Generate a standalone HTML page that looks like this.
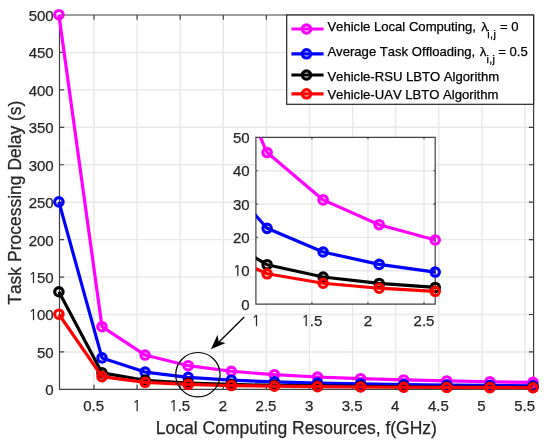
<!DOCTYPE html>
<html><head><meta charset="utf-8"><style>
html,body{margin:0;padding:0;background:#fff;width:550px;height:444px;overflow:hidden}
svg{display:block;font-kerning:none;color:#262626}
text{stroke:currentColor;stroke-width:0.25px}
</style></head><body>
<svg width="550" height="444" viewBox="0 0 550 444">
<rect width="550" height="444" fill="#fff"/>
<defs><clipPath id="cm"><rect x="59.5" y="15" width="474.1" height="374.4"/></clipPath>
<clipPath id="ci"><rect x="255.9" y="137.4" width="179.3" height="166.7"/></clipPath></defs>
<path d="M93.98 15V389.4M137.08 15V389.4M180.18 15V389.4M223.28 15V389.4M266.38 15V389.4M309.48 15V389.4M352.58 15V389.4M395.68 15V389.4M438.78 15V389.4M481.88 15V389.4M524.98 15V389.4M59.5 351.96H533.6M59.5 314.52H533.6M59.5 277.08H533.6M59.5 239.64H533.6M59.5 202.2H533.6M59.5 164.76H533.6M59.5 127.32H533.6M59.5 89.88H533.6M59.5 52.44H533.6" stroke="#e8e8e8" stroke-width="1.4" fill="none"/>
<path d="M59.5 15H533.6 V389.4 H59.5 ZM93.98 389.4v-4.7 M93.98 15v4.7M137.08 389.4v-4.7 M137.08 15v4.7M180.18 389.4v-4.7 M180.18 15v4.7M223.28 389.4v-4.7 M223.28 15v4.7M266.38 389.4v-4.7 M266.38 15v4.7M309.48 389.4v-4.7 M309.48 15v4.7M352.58 389.4v-4.7 M352.58 15v4.7M395.68 389.4v-4.7 M395.68 15v4.7M438.78 389.4v-4.7 M438.78 15v4.7M481.88 389.4v-4.7 M481.88 15v4.7M524.98 389.4v-4.7 M524.98 15v4.7M59.5 389.4h4.7 M533.6 389.4h-4.7M59.5 351.96h4.7 M533.6 351.96h-4.7M59.5 314.52h4.7 M533.6 314.52h-4.7M59.5 277.08h4.7 M533.6 277.08h-4.7M59.5 239.64h4.7 M533.6 239.64h-4.7M59.5 202.2h4.7 M533.6 202.2h-4.7M59.5 164.76h4.7 M533.6 164.76h-4.7M59.5 127.32h4.7 M533.6 127.32h-4.7M59.5 89.88h4.7 M533.6 89.88h-4.7M59.5 52.44h4.7 M533.6 52.44h-4.7M59.5 15h4.7 M533.6 15h-4.7" stroke="#404040" stroke-width="1.2" fill="none"/>
<polyline points="58.9,14.7 102,326.7 145.1,355.06 188.2,365.7 231.3,371.27 274.4,374.7 317.5,377.02 360.6,378.7 403.7,379.97 446.8,380.96 489.9,381.76 533,382.41" fill="none" stroke="#ff00ff" stroke-width="3.2" stroke-linejoin="round"/>
<circle cx="58.9" cy="14.7" r="4.2" fill="none" stroke="#ff00ff" stroke-width="3.2"/>
<circle cx="102" cy="326.7" r="4.2" fill="none" stroke="#ff00ff" stroke-width="3.2"/>
<circle cx="145.1" cy="355.06" r="4.2" fill="none" stroke="#ff00ff" stroke-width="3.2"/>
<circle cx="188.2" cy="365.7" r="4.2" fill="none" stroke="#ff00ff" stroke-width="3.2"/>
<circle cx="231.3" cy="371.27" r="4.2" fill="none" stroke="#ff00ff" stroke-width="3.2"/>
<circle cx="274.4" cy="374.7" r="4.2" fill="none" stroke="#ff00ff" stroke-width="3.2"/>
<circle cx="317.5" cy="377.02" r="4.2" fill="none" stroke="#ff00ff" stroke-width="3.2"/>
<circle cx="360.6" cy="378.7" r="4.2" fill="none" stroke="#ff00ff" stroke-width="3.2"/>
<circle cx="403.7" cy="379.97" r="4.2" fill="none" stroke="#ff00ff" stroke-width="3.2"/>
<circle cx="446.8" cy="380.96" r="4.2" fill="none" stroke="#ff00ff" stroke-width="3.2"/>
<circle cx="489.9" cy="381.76" r="4.2" fill="none" stroke="#ff00ff" stroke-width="3.2"/>
<circle cx="533" cy="382.41" r="4.2" fill="none" stroke="#ff00ff" stroke-width="3.2"/>
<polyline points="58.9,201.9 102,357.9 145.1,372.08 188.2,377.4 231.3,380.19 274.4,381.9 317.5,383.06 360.6,383.9 403.7,384.53 446.8,385.03 489.9,385.43 533,385.76" fill="none" stroke="#0000ff" stroke-width="3.2" stroke-linejoin="round"/>
<circle cx="58.9" cy="201.9" r="4.2" fill="none" stroke="#0000ff" stroke-width="3.2"/>
<circle cx="102" cy="357.9" r="4.2" fill="none" stroke="#0000ff" stroke-width="3.2"/>
<circle cx="145.1" cy="372.08" r="4.2" fill="none" stroke="#0000ff" stroke-width="3.2"/>
<circle cx="188.2" cy="377.4" r="4.2" fill="none" stroke="#0000ff" stroke-width="3.2"/>
<circle cx="231.3" cy="380.19" r="4.2" fill="none" stroke="#0000ff" stroke-width="3.2"/>
<circle cx="274.4" cy="381.9" r="4.2" fill="none" stroke="#0000ff" stroke-width="3.2"/>
<circle cx="317.5" cy="383.06" r="4.2" fill="none" stroke="#0000ff" stroke-width="3.2"/>
<circle cx="360.6" cy="383.9" r="4.2" fill="none" stroke="#0000ff" stroke-width="3.2"/>
<circle cx="403.7" cy="384.53" r="4.2" fill="none" stroke="#0000ff" stroke-width="3.2"/>
<circle cx="446.8" cy="385.03" r="4.2" fill="none" stroke="#0000ff" stroke-width="3.2"/>
<circle cx="489.9" cy="385.43" r="4.2" fill="none" stroke="#0000ff" stroke-width="3.2"/>
<circle cx="533" cy="385.76" r="4.2" fill="none" stroke="#0000ff" stroke-width="3.2"/>
<polyline points="58.9,291.76 102,372.88 145.1,380.25 188.2,383.02 231.3,384.46 274.4,385.36 317.5,385.96 360.6,386.4 403.7,386.73 446.8,386.98 489.9,387.19 533,387.36" fill="none" stroke="#000000" stroke-width="3.2" stroke-linejoin="round"/>
<circle cx="58.9" cy="291.76" r="4.2" fill="none" stroke="#000000" stroke-width="3.2"/>
<circle cx="102" cy="372.88" r="4.2" fill="none" stroke="#000000" stroke-width="3.2"/>
<circle cx="145.1" cy="380.25" r="4.2" fill="none" stroke="#000000" stroke-width="3.2"/>
<circle cx="188.2" cy="383.02" r="4.2" fill="none" stroke="#000000" stroke-width="3.2"/>
<circle cx="231.3" cy="384.46" r="4.2" fill="none" stroke="#000000" stroke-width="3.2"/>
<circle cx="274.4" cy="385.36" r="4.2" fill="none" stroke="#000000" stroke-width="3.2"/>
<circle cx="317.5" cy="385.96" r="4.2" fill="none" stroke="#000000" stroke-width="3.2"/>
<circle cx="360.6" cy="386.4" r="4.2" fill="none" stroke="#000000" stroke-width="3.2"/>
<circle cx="403.7" cy="386.73" r="4.2" fill="none" stroke="#000000" stroke-width="3.2"/>
<circle cx="446.8" cy="386.98" r="4.2" fill="none" stroke="#000000" stroke-width="3.2"/>
<circle cx="489.9" cy="387.19" r="4.2" fill="none" stroke="#000000" stroke-width="3.2"/>
<circle cx="533" cy="387.36" r="4.2" fill="none" stroke="#000000" stroke-width="3.2"/>
<polyline points="58.9,314.22 102,376.62 145.1,382.29 188.2,384.42 231.3,385.53 274.4,386.22 317.5,386.68 360.6,387.02 403.7,387.27 446.8,387.47 489.9,387.63 533,387.76" fill="none" stroke="#ff0000" stroke-width="3.2" stroke-linejoin="round"/>
<circle cx="58.9" cy="314.22" r="4.2" fill="none" stroke="#ff0000" stroke-width="3.2"/>
<circle cx="102" cy="376.62" r="4.2" fill="none" stroke="#ff0000" stroke-width="3.2"/>
<circle cx="145.1" cy="382.29" r="4.2" fill="none" stroke="#ff0000" stroke-width="3.2"/>
<circle cx="188.2" cy="384.42" r="4.2" fill="none" stroke="#ff0000" stroke-width="3.2"/>
<circle cx="231.3" cy="385.53" r="4.2" fill="none" stroke="#ff0000" stroke-width="3.2"/>
<circle cx="274.4" cy="386.22" r="4.2" fill="none" stroke="#ff0000" stroke-width="3.2"/>
<circle cx="317.5" cy="386.68" r="4.2" fill="none" stroke="#ff0000" stroke-width="3.2"/>
<circle cx="360.6" cy="387.02" r="4.2" fill="none" stroke="#ff0000" stroke-width="3.2"/>
<circle cx="403.7" cy="387.27" r="4.2" fill="none" stroke="#ff0000" stroke-width="3.2"/>
<circle cx="446.8" cy="387.47" r="4.2" fill="none" stroke="#ff0000" stroke-width="3.2"/>
<circle cx="489.9" cy="387.63" r="4.2" fill="none" stroke="#ff0000" stroke-width="3.2"/>
<circle cx="533" cy="387.76" r="4.2" fill="none" stroke="#ff0000" stroke-width="3.2"/>
<g font-family="Liberation Sans, Arial, sans-serif" font-size="15" fill="#262626">
<text x="53.7" y="395.3" text-anchor="end">0</text>
<text x="53.7" y="357.86" text-anchor="end">50</text>
<text x="53.7" y="320.42" text-anchor="end"><tspan font-family="NanumGothic, Liberation Sans, sans-serif" font-size="14.2" letter-spacing="-0.27">1</tspan>00</text>
<text x="53.7" y="282.98" text-anchor="end"><tspan font-family="NanumGothic, Liberation Sans, sans-serif" font-size="14.2" letter-spacing="-0.27">1</tspan>50</text>
<text x="53.7" y="245.54" text-anchor="end">200</text>
<text x="53.7" y="208.1" text-anchor="end">250</text>
<text x="53.7" y="170.66" text-anchor="end">300</text>
<text x="53.7" y="133.22" text-anchor="end">350</text>
<text x="53.7" y="95.78" text-anchor="end">400</text>
<text x="53.7" y="58.34" text-anchor="end">450</text>
<text x="53.7" y="20.9" text-anchor="end">500</text>
<text x="93.58" y="410.5" text-anchor="middle">0.5</text>
<text x="136.68" y="410.5" text-anchor="middle"><tspan font-family="NanumGothic, Liberation Sans, sans-serif" font-size="14.2" letter-spacing="-0.27">1</tspan></text>
<text x="179.78" y="410.5" text-anchor="middle"><tspan font-family="NanumGothic, Liberation Sans, sans-serif" font-size="14.2" letter-spacing="-0.27">1</tspan>.5</text>
<text x="222.88" y="410.5" text-anchor="middle">2</text>
<text x="265.98" y="410.5" text-anchor="middle">2.5</text>
<text x="309.08" y="410.5" text-anchor="middle">3</text>
<text x="352.18" y="410.5" text-anchor="middle">3.5</text>
<text x="395.28" y="410.5" text-anchor="middle">4</text>
<text x="438.38" y="410.5" text-anchor="middle">4.5</text>
<text x="481.48" y="410.5" text-anchor="middle">5</text>
<text x="524.58" y="410.5" text-anchor="middle">5.5</text>
</g>
<text x="296.4" y="433.6" text-anchor="middle" font-family="Liberation Sans, Arial, sans-serif" font-size="17.5" fill="#262626">Local Computing Resources, f(GHz)</text>
<text transform="translate(20.6,202.7) rotate(-90)" x="0" y="0" text-anchor="middle" font-family="Liberation Sans, Arial, sans-serif" font-size="17.5" fill="#262626">Task Processing Delay (s)</text>
<rect x="255.9" y="137.4" width="179.3" height="166.7" fill="#fff"/>
<path d="M311.93 137.4V304.1M367.96 137.4V304.1M423.99 137.4V304.1M255.9 270.76H435.2M255.9 237.42H435.2M255.9 204.08H435.2M255.9 170.74H435.2" stroke="#e8e8e8" stroke-width="1.4" fill="none"/>
<path d="M255.9 137.4H435.2 V304.1 H255.9 ZM311.93 304.1v-1.8 M311.93 137.4v1.8M367.96 304.1v-1.8 M367.96 137.4v1.8M423.99 304.1v-1.8 M423.99 137.4v1.8M255.9 304.1h1.8 M435.2 304.1h-1.8M255.9 270.76h1.8 M435.2 270.76h-1.8M255.9 237.42h1.8 M435.2 237.42h-1.8M255.9 204.08h1.8 M435.2 204.08h-1.8M255.9 170.74h1.8 M435.2 170.74h-1.8M255.9 137.4h1.8 M435.2 137.4h-1.8" stroke="#404040" stroke-width="1.2" fill="none"/>
<polyline clip-path="url(#ci)" points="155.04,-1362.9 211.08,26.27 267.11,152.55 323.14,199.91 379.17,224.72 435.2,239.98 491.23,250.33 547.26,257.79 603.29,263.44 659.32,267.86 715.36,271.41 771.39,274.33" fill="none" stroke="#ff00ff" stroke-width="3.2" stroke-linejoin="round"/>
<circle cx="267.11" cy="152.55" r="4.2" fill="none" stroke="#ff00ff" stroke-width="3.2"/>
<circle cx="323.14" cy="199.91" r="4.2" fill="none" stroke="#ff00ff" stroke-width="3.2"/>
<circle cx="379.17" cy="224.72" r="4.2" fill="none" stroke="#ff00ff" stroke-width="3.2"/>
<circle cx="435.2" cy="239.98" r="4.2" fill="none" stroke="#ff00ff" stroke-width="3.2"/>
<polyline clip-path="url(#ci)" points="155.04,-529.4 211.08,165.18 267.11,228.33 323.14,252.01 379.17,264.41 435.2,272.04 491.23,277.21 547.26,280.95 603.29,283.77 659.32,285.98 715.36,287.76 771.39,289.22" fill="none" stroke="#0000ff" stroke-width="3.2" stroke-linejoin="round"/>
<circle cx="267.11" cy="228.33" r="4.2" fill="none" stroke="#0000ff" stroke-width="3.2"/>
<circle cx="323.14" cy="252.01" r="4.2" fill="none" stroke="#0000ff" stroke-width="3.2"/>
<circle cx="379.17" cy="264.41" r="4.2" fill="none" stroke="#0000ff" stroke-width="3.2"/>
<circle cx="435.2" cy="272.04" r="4.2" fill="none" stroke="#0000ff" stroke-width="3.2"/>
<polyline clip-path="url(#ci)" points="155.04,-129.32 211.08,231.86 267.11,264.7 323.14,277.01 379.17,283.46 435.2,287.43 491.23,290.12 547.26,292.06 603.29,293.53 659.32,294.68 715.36,295.6 771.39,296.36" fill="none" stroke="#000000" stroke-width="3.2" stroke-linejoin="round"/>
<circle cx="267.11" cy="264.7" r="4.2" fill="none" stroke="#000000" stroke-width="3.2"/>
<circle cx="323.14" cy="277.01" r="4.2" fill="none" stroke="#000000" stroke-width="3.2"/>
<circle cx="379.17" cy="283.46" r="4.2" fill="none" stroke="#000000" stroke-width="3.2"/>
<circle cx="435.2" cy="287.43" r="4.2" fill="none" stroke="#000000" stroke-width="3.2"/>
<polyline clip-path="url(#ci)" points="155.04,-29.3 211.08,248.53 267.11,273.79 323.14,283.26 379.17,288.22 435.2,291.28 491.23,293.35 547.26,294.84 603.29,295.97 659.32,296.85 715.36,297.56 771.39,298.15" fill="none" stroke="#ff0000" stroke-width="3.2" stroke-linejoin="round"/>
<circle cx="267.11" cy="273.79" r="4.2" fill="none" stroke="#ff0000" stroke-width="3.2"/>
<circle cx="323.14" cy="283.26" r="4.2" fill="none" stroke="#ff0000" stroke-width="3.2"/>
<circle cx="379.17" cy="288.22" r="4.2" fill="none" stroke="#ff0000" stroke-width="3.2"/>
<circle cx="435.2" cy="291.28" r="4.2" fill="none" stroke="#ff0000" stroke-width="3.2"/>
<g font-family="Liberation Sans, Arial, sans-serif" font-size="15" fill="#262626">
<text x="249.7" y="309.6" text-anchor="end">0</text>
<text x="249.7" y="276.26" text-anchor="end"><tspan font-family="NanumGothic, Liberation Sans, sans-serif" font-size="14.2" letter-spacing="-0.27">1</tspan>0</text>
<text x="249.7" y="242.92" text-anchor="end">20</text>
<text x="249.7" y="209.58" text-anchor="end">30</text>
<text x="249.7" y="176.24" text-anchor="end">40</text>
<text x="249.7" y="142.9" text-anchor="end">50</text>
<text x="255.9" y="325.5" text-anchor="middle"><tspan font-family="NanumGothic, Liberation Sans, sans-serif" font-size="14.2" letter-spacing="-0.27">1</tspan></text>
<text x="311.93" y="325.5" text-anchor="middle"><tspan font-family="NanumGothic, Liberation Sans, sans-serif" font-size="14.2" letter-spacing="-0.27">1</tspan>.5</text>
<text x="367.96" y="325.5" text-anchor="middle">2</text>
<text x="423.99" y="325.5" text-anchor="middle">2.5</text>
</g>
<rect x="286.7" y="15" width="246.9" height="89.3" fill="#fff" stroke="#262626" stroke-width="1.2"/>
<path d="M291.4 29H323.6" stroke="#ff00ff" stroke-width="3.2"/>
<circle cx="306.5" cy="29" r="4.2" fill="none" stroke="#ff00ff" stroke-width="3.2"/>
<text y="31.3" font-family="Liberation Sans, Arial, sans-serif" font-size="13.1" fill="#000" color="#000"><tspan x="327.4">Vehicle Local Computing,</tspan><tspan x="481.2" font-size="13.5">λ</tspan><tspan x="487.3" font-size="10.8" dy="6.6" letter-spacing="0.35">i,j</tspan><tspan x="499.9" dy="-6.6">= 0</tspan></text>
<path d="M291.4 53.8H323.6" stroke="#0000ff" stroke-width="3.2"/>
<circle cx="306.5" cy="53.8" r="4.2" fill="none" stroke="#0000ff" stroke-width="3.2"/>
<text y="56.4" font-family="Liberation Sans, Arial, sans-serif" font-size="13.1" fill="#000" color="#000"><tspan x="327.4">Average Task Offloading,</tspan><tspan x="479.7" font-size="13.5">λ</tspan><tspan x="486.4" font-size="10.8" dy="6.6" letter-spacing="0.35">i,j</tspan><tspan x="498.3" dy="-6.6">= 0.5</tspan></text>
<path d="M291.4 75H323.6" stroke="#000000" stroke-width="3.2"/>
<circle cx="306.5" cy="75" r="4.2" fill="none" stroke="#000000" stroke-width="3.2"/>
<text x="327.4" y="80.8" font-family="Liberation Sans, Arial, sans-serif" font-size="13.1" fill="#000" color="#000">Vehicle-RSU LBTO Algorithm</text>
<path d="M291.4 93.8H323.6" stroke="#ff0000" stroke-width="3.2"/>
<circle cx="306.5" cy="93.8" r="4.2" fill="none" stroke="#ff0000" stroke-width="3.2"/>
<text x="327.4" y="98.7" font-family="Liberation Sans, Arial, sans-serif" font-size="13.1" fill="#000" color="#000">Vehicle-UAV LBTO Algorithm</text>
<circle cx="197.9" cy="374.7" r="22.2" fill="none" stroke="#000" stroke-width="1.2"/>
<path d="M244.2 317L216 345" stroke="#000" stroke-width="1.3"/>
<path d="M210.9 349.3L217.5 334.8L218.6 341.5L225.6 342.9Z" fill="#000"/>
</svg>
</body></html>
